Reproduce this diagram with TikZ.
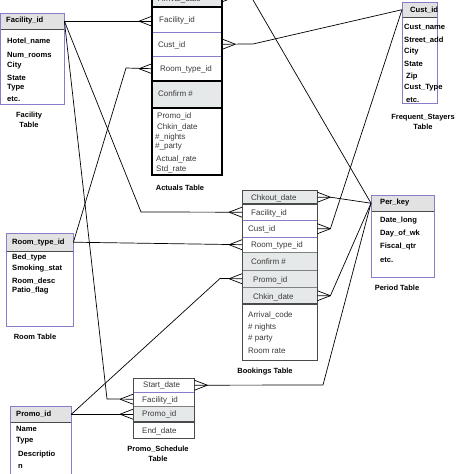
\documentclass[tikz,border=0pt]{standalone}
\usepackage{fontspec}
\setmainfont{Liberation Sans}
\definecolor{purp}{HTML}{8C7BC9}
\definecolor{hdr}{HTML}{E2E2E2}
\definecolor{gfill}{HTML}{E6E9E9}
\definecolor{txt}{HTML}{3A3A3A}
\definecolor{bord}{HTML}{4A4A4A}
\tikzset{
  x=1pt, y=-1pt,
  conn/.style={draw=black, line width=0.7pt},
  ptab/.style={draw=purp, line width=0.9pt},
  hsep/.style={draw=bord, line width=0.9pt},
  rowbox/.style={rectangle, inner sep=0pt, anchor=north west, draw=none},
  hdrbox/.style={rectangle, inner sep=0pt, anchor=north west, fill=hdr, draw=none},
  btxt/.style={font=\fontsize{7.6}{9}\selectfont\bfseries, inner sep=0pt, anchor=west, text=black},
  rtxt/.style={font=\fontsize{8}{9.5}\selectfont, inner sep=0pt, anchor=west, text=txt},
  captxt/.style={font=\fontsize{7.5}{10}\selectfont\bfseries, inner sep=0pt, align=center, text=black},
}
\newcommand{\ercrowL}[1]{\draw[conn] ([shift={(-13,0)}]#1) -- ([shift={(0,-5)}]#1) ([shift={(-13,0)}]#1) -- ([shift={(0,5)}]#1);}
\newcommand{\ercrowR}[1]{\draw[conn] ([shift={(13,0)}]#1) -- ([shift={(0,-5)}]#1) ([shift={(13,0)}]#1) -- ([shift={(0,5)}]#1);}
\begin{document}
\begin{tikzpicture}
\useasboundingbox (0,0) rectangle (474,474);
\clip (0,0) rectangle (474,474);
\fill[white] (0,0) rectangle (474,474);

% ---------------- Facility table
\node[hdrbox, minimum width=63.5, minimum height=16] (fac) at (0.5,13) {};
\draw[hsep] (0.5,29) -- (64,29);
\draw[ptab] (0.5,13) rectangle (64,104);
\node[btxt] (facT0) at (6,21) {Facility\_id};
\node[btxt] (facT1) at (7,41) {Hotel\_name};
\node[btxt] (facT2) at (7,55) {Num\_rooms};
\node[btxt] (facT3) at (7,66) {City};
\node[btxt] (facT4) at (7,78) {State};
\node[btxt] (facT5) at (7,88) {Type};
\node[btxt] (facT6) at (7,99) {etc.};
\node[captxt] (facC) at (29,120) {Facility\\Table};

% ---------------- Actuals table
\node[rowbox, minimum width=70, minimum height=21, fill=gfill] (arr) at (152,-14) {};
\node[rowbox, minimum width=70, minimum height=25] (af) at (152,7) {};
\node[rowbox, minimum width=70, minimum height=24] (acust) at (152,32) {};
\node[rowbox, minimum width=70, minimum height=25] (ar) at (152,56) {};
\node[rowbox, minimum width=70, minimum height=27, fill=gfill] (acf) at (152,81) {};
\draw[black, line width=1.5pt] (152,7) -- (222,7);
\draw[purp, line width=0.9pt] (152,32) -- (222,32) (152,56) -- (222,56);
\draw[black, line width=1.5pt] (152,81) -- (222,81) (152,108) -- (222,108);
\draw[black, line width=1.6pt] (152,-14) rectangle (222,175);
\node[rtxt] (aT0) at (158,-1) {Arrival\_date};
\node[rtxt] (aT1) at (159,20) {Facility\_id};
\node[rtxt] (aT2) at (158,45) {Cust\_id};
\node[rtxt] (aT3) at (160,69) {Room\_type\_id};
\node[rtxt] (aT4) at (158,94) {Confirm \#};
\node[rtxt] (aT5) at (157,116) {Promo\_id};
\node[rtxt] (aT6) at (157,127) {Chkin\_date};
\node[rtxt] (aT7) at (155,137) {\#\_nights};
\node[rtxt] (aT8) at (155,147) {\#\_party};
\node[rtxt] (aT9) at (156,159) {Actual\_rate};
\node[rtxt] (aT10) at (156,169) {Std\_rate};
\node[captxt] (actC) at (180,188) {Actuals Table};

% ---------------- Frequent_Stayers table
\node[hdrbox, minimum width=35, minimum height=15] (fcust) at (402,2) {};
\draw[hsep] (402,17) -- (437,17);
\draw[ptab] (402,2) rectangle (437,103);
\node[btxt] (fsT0) at (410,10) {Cust\_id};
\node[btxt] (fsT1) at (404,27) {Cust\_name};
\node[btxt] (fsT2) at (404,40) {Street\_add};
\node[btxt] (fsT3) at (404,52) {City};
\node[btxt] (fsT4) at (404,64) {State};
\node[btxt] (fsT5) at (406,77) {Zip};
\node[btxt] (fsT6) at (404,88) {Cust\_Type};
\node[btxt] (fsT7) at (406,100) {etc.};
\node[captxt] (fsC) at (423,122) {Frequent\_Stayers\\Table};

% ---------------- Bookings table
\node[rowbox, minimum width=75, minimum height=14, fill=gfill] (bco) at (242,190) {};
\node[rowbox, minimum width=75, minimum height=16] (bf) at (242,204) {};
\node[rowbox, minimum width=75, minimum height=17] (bcust) at (242,220) {};
\node[rowbox, minimum width=75, minimum height=15] (brt) at (242,237) {};
\node[rowbox, minimum width=75, minimum height=18, fill=gfill] (bcf) at (242,252) {};
\node[rowbox, minimum width=75, minimum height=17, fill=gfill] (bp) at (242,270) {};
\node[rowbox, minimum width=75, minimum height=17, fill=gfill] (bci) at (242,287) {};
\draw[bord, line width=1.2pt] (242,204) -- (317,204) (242,304) -- (317,304);
\draw[purp, line width=0.9pt] (242,220) -- (317,220) (242,237) -- (317,237);
\draw[gray, line width=0.6pt] (242,252) -- (317,252) (242,270) -- (317,270) (242,287) -- (317,287);
\draw[bord, line width=0.8pt] (242,190) rectangle (317,360);
\node[rtxt] (bT0) at (251,198) {Chkout\_date};
\node[rtxt] (bT1) at (251,213) {Facility\_id};
\node[rtxt] (bT2) at (248,229) {Cust\_id};
\node[rtxt] (bT3) at (251,245) {Room\_type\_id};
\node[rtxt] (bT4) at (251,262) {Confirm \#};
\node[rtxt] (bT5) at (253,280) {Promo\_id};
\node[rtxt] (bT6) at (253,297) {Chkin\_date};
\node[rtxt] (bT7) at (248,315) {Arrival\_code};
\node[rtxt] (bT8) at (248,327) {\# nights};
\node[rtxt] (bT9) at (248,339) {\# party};
\node[rtxt] (bT10) at (248,351) {Room rate};
\node[captxt] (bkC) at (265,372) {Bookings Table};

% ---------------- Period table
\node[hdrbox, minimum width=63, minimum height=16] (per) at (371,195) {};
\draw[hsep] (371,211) -- (434,211);
\draw[ptab] (371,195) rectangle (434,277);
\node[btxt] (pT0) at (380,203) {Per\_key};
\node[btxt] (pT1) at (380,221) {Date\_long};
\node[btxt] (pT2) at (380,234) {Day\_of\_wk};
\node[btxt] (pT3) at (380,247) {Fiscal\_qtr};
\node[btxt] (pT4) at (380,260) {etc.};
\node[captxt] (perC) at (397,288) {Period Table};

% ---------------- Room table
\node[hdrbox, minimum width=67, minimum height=18] (room) at (6,233) {};
\draw[hsep] (6,251) -- (73,251);
\draw[ptab] (6,233) rectangle (73,326);
\node[btxt] (rT0) at (12,243) {Room\_type\_id};
\node[btxt] (rT1) at (12,258) {Bed\_type};
\node[btxt] (rT2) at (12,269) {Smoking\_stat};
\node[btxt] (rT3) at (12,281) {Room\_desc};
\node[btxt] (rT4) at (12,291) {Patio\_flag};
\node[captxt] (roomC) at (35,337) {Room Table};

% ---------------- Promo table
\node[hdrbox, minimum width=61, minimum height=16] (promo) at (10,406) {};
\draw[hsep] (10,422) -- (71,422);
\draw[ptab] (10,406) rectangle (71,490);
\node[btxt] (prT0) at (16,414) {Promo\_id};
\node[btxt] (prT1) at (16,429) {Name};
\node[btxt] (prT2) at (16,441) {Type};
\node[btxt] (prT3) at (18,455) {Descriptio};
\node[btxt] (prT4) at (18,466) {n};

% ---------------- Promo_Schedule table
\node[rowbox, minimum width=61, minimum height=14] (pss) at (133,378) {};
\node[rowbox, minimum width=61, minimum height=14] (psf) at (133,392) {};
\node[rowbox, minimum width=61, minimum height=16, fill=gfill] (psp) at (133,406) {};
\draw[purp, line width=0.9pt] (133,392) -- (194,392);
\draw[gray, line width=0.6pt] (133,406) -- (194,406);
\draw[bord, line width=1.1pt] (133,422) -- (194,422);
\draw[bord, line width=0.8pt] (133,378) rectangle (194,438);
\node[rtxt] (psT0) at (143,385) {Start\_date};
\node[rtxt] (psT1) at (142,400) {Facility\_id};
\node[rtxt] (psT2) at (142,414) {Promo\_id};
\node[rtxt] (psT3) at (142,431) {End\_date};
\node[captxt] (psC) at (158,454) {Promo\_Schedule\\Table};

% ---------------- connectors
\coordinate (c1) at (fac.east -| af.west);
\coordinate (b2) at (107,399);
\coordinate (b3) at (141,212);
\coordinate (b4) at (126,68);
\coordinate (b7) at (220,278.5);
\coordinate (b8) at (253,44);
\coordinate (b10) at (251,-3.5);
\coordinate (b13) at (323,385);

\draw[conn] (fac.east) -- (c1);
\ercrowL{c1}
\draw[conn] (fac.east) -- (b2) -- (psf.west);
\ercrowL{psf.west}
\draw[conn] (fac.east) -- (b3) -- (bf.west);
\ercrowL{bf.west}
\draw[conn] (room.east) -- (b4) -- (ar.west);
\ercrowL{ar.west}
\draw[conn] (room.east) -- (brt.west);
\ercrowL{brt.west}
\draw[conn] (promo.east) -- (psp.west);
\ercrowL{psp.west}
\draw[conn] (promo.east) -- (b7) -- (bp.west);
\ercrowL{bp.west}
\draw[conn] (acust.east) -- (b8) -- (fcust.west);
\ercrowR{acust.east}
\draw[conn] (bcust.east) -- ++(13,0) -- (fcust.west);
\ercrowR{bcust.east}
\draw[conn] (arr.east) -- (b10) -- (per.west);
\ercrowR{arr.east}
\draw[conn] (bco.east) -- ++(13,0) -- (per.west);
\ercrowR{bco.east}
\draw[conn] (bci.east) -- ++(13,0) -- (per.west);
\ercrowR{bci.east}
\draw[conn] (pss.east) -- (b13) -- (per.west);
\ercrowR{pss.east}
\end{tikzpicture}
\end{document}
